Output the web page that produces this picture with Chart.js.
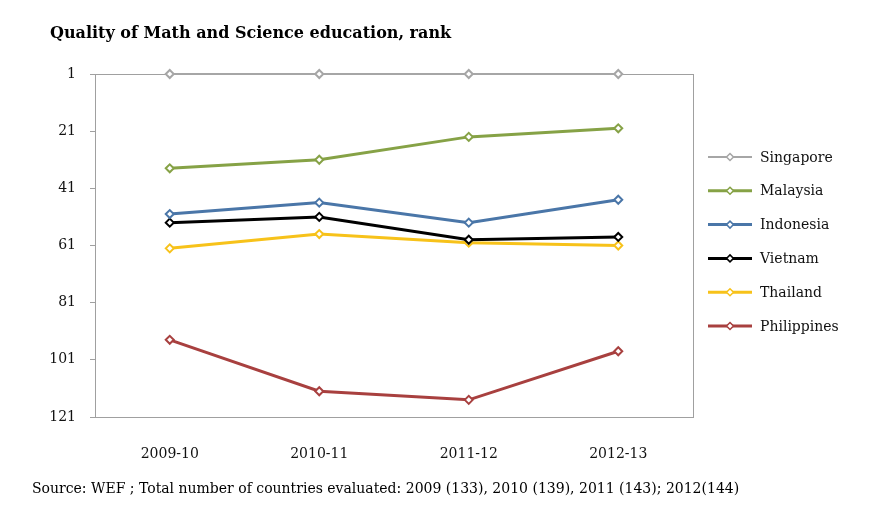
<!DOCTYPE html>
<html>
<head>
<meta charset="utf-8">
<script src="https://cdn.jsdelivr.net/npm/chart.js@4.4.0/dist/chart.umd.min.js"></script>
<style>
  html, body { margin: 0; padding: 0; background: #fff; }
  #wrap { width: 876px; height: 520px; position: relative; }
</style>
</head>
<body>
<div id="wrap"><canvas id="c" width="876" height="520"></canvas></div>
<script>
const seasons = ["2009-10", "2010-11", "2011-12", "2012-13"];
const yTicks = [1, 21, 41, 61, 81, 101, 121];

const singapore   = [1, 1, 1, 1];
const malaysia    = [34, 31, 23, 20];
const indonesia   = [50, 46, 53, 45];
const vietnam     = [53, 51, 59, 58];
const thailand    = [62, 57, 60, 61];
const philippines = [94, 112, 115, 98];

const titleText = "Quality of Math and Science education, rank";
const sourceText = "Source: WEF ; Total number of countries evaluated: 2009 (133), 2010 (139), 2011 (143); 2012(144)";

const serif = "'DejaVu Serif', 'Liberation Serif', serif";

function line(label, data, color, width) {
    return {
        label: label,
        data: data,
        borderColor: color,
        backgroundColor: "#fff",
        borderWidth: width,
        pointStyle: "rectRot",
        pointRadius: 4,
        pointBorderWidth: 2,
        pointBackgroundColor: "#fff",
        pointBorderColor: color,
        tension: 0,
        clip: false
    };
}

// title, source, plot box and legend drawn by hand
const extras = {
    id: "extras",
    beforeDatasetsDraw(chart) {
        const a = chart.chartArea, ctx = chart.ctx;
        ctx.save();
        ctx.strokeStyle = "#a0a0a0";
        ctx.lineWidth = 1;
        ctx.strokeRect(Math.round(a.left) + 0.5, Math.round(a.top) + 0.5,
                       Math.round(a.right - a.left), Math.round(a.bottom - a.top));
        ctx.restore();
    },
    afterDraw(chart) {
        const ctx = chart.ctx;
        ctx.save();
        ctx.fillStyle = "#000";
        ctx.textBaseline = "alphabetic";
        ctx.font = "bold 16px " + serif;
        ctx.fillText(titleText, 50, 38);
        ctx.font = "14px " + serif;
        ctx.fillText(sourceText, 32, 493);

        // legend
        const x0 = 708, x1 = 752;
        chart.data.datasets.forEach((ds, i) => {
            const y = 157 + i * 33.8;
            ctx.strokeStyle = ds.borderColor;
            ctx.lineWidth = ds.borderWidth;
            ctx.beginPath();
            ctx.moveTo(x0, y);
            ctx.lineTo(x1, y);
            ctx.stroke();
            const cx = (x0 + x1) / 2;
            ctx.fillStyle = "#fff";
            ctx.lineWidth = 1.5;
            ctx.beginPath();
            ctx.moveTo(cx, y - 3.5);
            ctx.lineTo(cx + 3.5, y);
            ctx.lineTo(cx, y + 3.5);
            ctx.lineTo(cx - 3.5, y);
            ctx.closePath();
            ctx.fill();
            ctx.stroke();
            ctx.fillStyle = "#111";
            ctx.font = "14px " + serif;
            ctx.textBaseline = "middle";
            ctx.fillText(ds.label, 760, y + 1);
        });
        ctx.restore();
    }
};

new Chart(document.getElementById("c"), {
    type: "line",
    data: {
        labels: seasons,
        datasets: [
            line("Singapore", singapore, "#a6a6a6", 2),
            line("Malaysia", malaysia, "#86a246", 3),
            line("Indonesia", indonesia, "#4a76a8", 3),
            line("Vietnam", vietnam, "#000000", 3),
            line("Thailand", thailand, "#f7c21a", 3),
            line("Philippines", philippines, "#a8403f", 3)
        ]
    },
    options: {
        responsive: false,
        animation: false,
        layout: { padding: { left: 0, right: 183, top: 74, bottom: 0 } },
        plugins: {
            legend: { display: false },
            title: { display: false },
            tooltip: { enabled: false }
        },
        scales: {
            x: {
                offset: true,
                grid: { display: false },
                border: { display: false },
                ticks: { color: "#111", font: { family: serif, size: 14 }, padding: 21 },
                afterFit(scale) { scale.height = 103; }
            },
            y: {
                reverse: true,
                min: 1,
                max: 121,
                afterBuildTicks(scale) { scale.ticks = yTicks.map(v => ({ value: v })); },
                grid: { drawOnChartArea: false, drawTicks: true, tickLength: 5, color: "#a0a0a0" },
                border: { display: false },
                ticks: { color: "#111", font: { family: serif, size: 14 }, padding: 14 },
                afterFit(scale) { scale.width = 95; }
            }
        }
    },
    plugins: [extras]
});
</script>
</body>
</html>
